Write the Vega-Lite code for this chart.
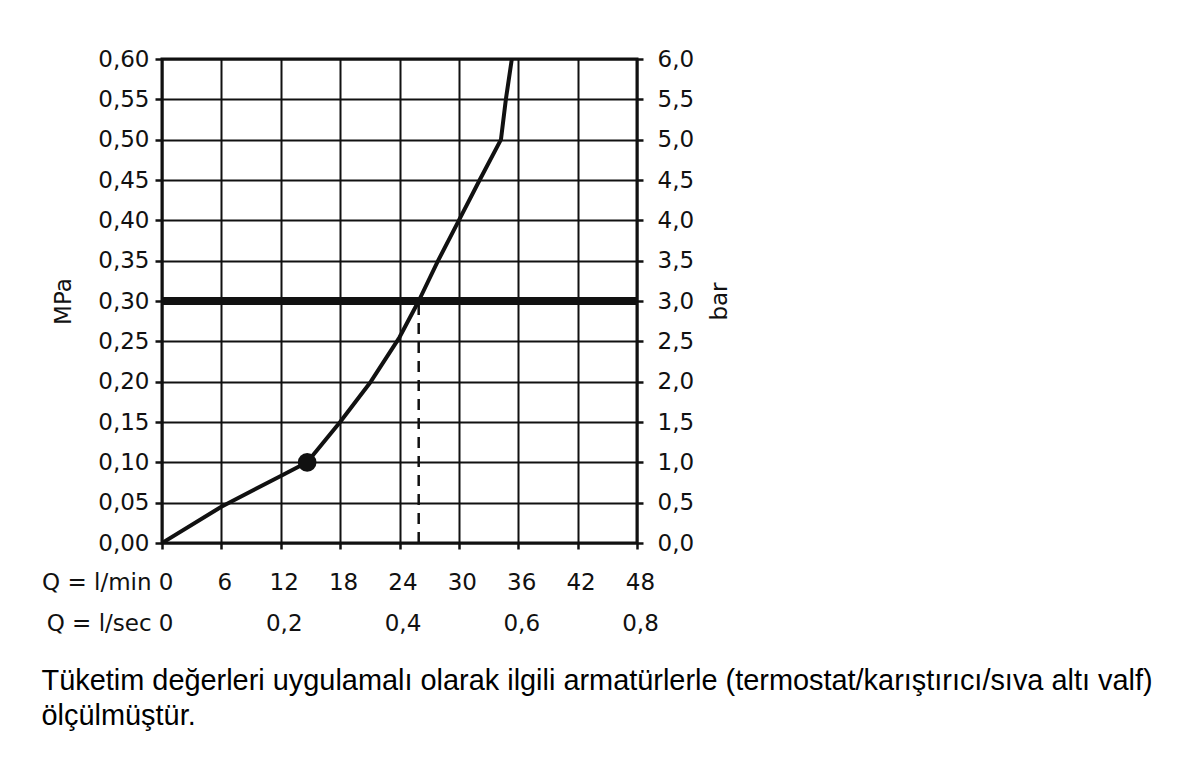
{
  "$schema": "https://vega.github.io/schema/vega-lite/v6.json",
  "autosize": {"type": "none"},
  "padding": {"left": 162, "top": 59, "right": 563, "bottom": 222},
  "width": 475,
  "height": 484,
  "background": "white",
  "config": {
    "view": {"stroke": "#111", "strokeWidth": 3},
    "axis": {"labelFont": "DejaVu Sans", "labelFontSize": 23, "labelColor": "#111", "titleFont": "DejaVu Sans", "titleFontSize": 23, "titleFontWeight": "normal", "titleColor": "#111", "tickColor": "#111", "tickWidth": 2.5, "gridColor": "#111", "gridWidth": 2, "gridOpacity": 1, "domain": false}
  },
  "title": {
    "text": ["Tüketim değerleri uygulamalı olarak ilgili armatürlerle (termostat/karıştırıcı/sıva altı valf)", "ölçülmüştür."],
    "orient": "bottom", "anchor": "start", "frame": "bounds",
    "font": "Liberation Sans", "fontSize": 28.9, "fontWeight": "normal", "color": "#000",
    "lineHeight": 35, "offset": 32
  },
  "datasets": {
    "curve": [
      {"q": 0, "p": 0}, {"q": 6, "p": 0.045}, {"q": 12, "p": 0.083}, {"q": 14.67, "p": 0.1},
      {"q": 18, "p": 0.15}, {"q": 21.1, "p": 0.2}, {"q": 24, "p": 0.255}, {"q": 25.94, "p": 0.3},
      {"q": 27.9, "p": 0.35}, {"q": 30, "p": 0.4}, {"q": 32.1, "p": 0.45}, {"q": 34.25, "p": 0.5},
      {"q": 34.75, "p": 0.55}, {"q": 35.35, "p": 0.6}
    ],
    "dot": [{"q": 14.67, "p": 0.1}],
    "dash": [{"q": 25.94, "p0": 0, "p1": 0.3}],
    "limit": [{"bar": 3}]
  },
  "layer": [
    {
      "layer": [
        {
          "data": {"name": "curve"},
          "mark": {"type": "line", "color": "#111", "strokeWidth": 4, "strokeJoin": "round", "clip": true},
          "encoding": {
            "x": {
              "field": "q", "type": "quantitative",
              "scale": {"domain": [0, 48], "nice": false, "zero": false},
              "axis": {
                "values": [0, 6, 12, 18, 24, 30, 36, 42, 48],
                "title": null, "grid": true, "tickSize": 6,
                "labelExpr": "datum.value == 0 ? ['Q = l/min 0', 'Q = l/sec 0'] : [datum.label, datum.value % 12 == 0 ? replace(format(datum.value / 60, '.1f'), '.', ',') : '']",
                "labelAlign": {"condition": {"test": "datum.value == 0", "value": "right"}, "value": "center"},
                "labelOffset": {"condition": {"test": "datum.value == 0", "value": 11}, "value": 3},
                "labelOverlap": false, "labelFlush": false, "labelBound": false,
                "labelPadding": 22, "labelLineHeight": 41, "labelBaseline": "top"
              }
            },
            "y": {
              "field": "p", "type": "quantitative",
              "scale": {"domain": [0, 0.6], "nice": false, "zero": false},
              "axis": {
                "values": [0, 0.05, 0.1, 0.15, 0.2, 0.25, 0.3, 0.35, 0.4, 0.45, 0.5, 0.55, 0.6],
                "labelExpr": "replace(format(datum.value, '.2f'), '.', ',')",
                "grid": true, "tickSize": 7, "labelPadding": 6,
                "title": "MPa", "titlePadding": 22
              }
            }
          }
        },
        {
          "data": {"name": "dash"},
          "mark": {"type": "rule", "color": "#111", "strokeWidth": 2.5, "strokeDash": [11, 8]},
          "encoding": {
            "x": {"field": "q", "type": "quantitative"},
            "y": {"field": "p0", "type": "quantitative"},
            "y2": {"field": "p1"}
          }
        },
        {
          "data": {"name": "dot"},
          "mark": {"type": "point", "shape": "circle", "filled": true, "color": "#111", "opacity": 1, "size": 350},
          "encoding": {
            "x": {"field": "q", "type": "quantitative"},
            "y": {"field": "p", "type": "quantitative"}
          }
        }
      ]
    },
    {
      "data": {"name": "limit"},
      "mark": {"type": "rule", "color": "#111", "strokeWidth": 8},
      "encoding": {
        "y": {
          "field": "bar", "type": "quantitative",
          "scale": {"domain": [0, 6], "nice": false, "zero": false},
          "axis": {
            "orient": "right",
            "values": [0, 0.5, 1, 1.5, 2, 2.5, 3, 3.5, 4, 4.5, 5, 5.5, 6],
            "labelExpr": "replace(format(datum.value, '.1f'), '.', ',')",
            "grid": false, "tickSize": 6, "labelPadding": 14,
            "title": "bar", "titleAngle": -90, "titlePadding": 38
          }
        }
      }
    }
  ],
  "resolve": {"scale": {"y": "independent"}, "axis": {"y": "independent"}}
}
